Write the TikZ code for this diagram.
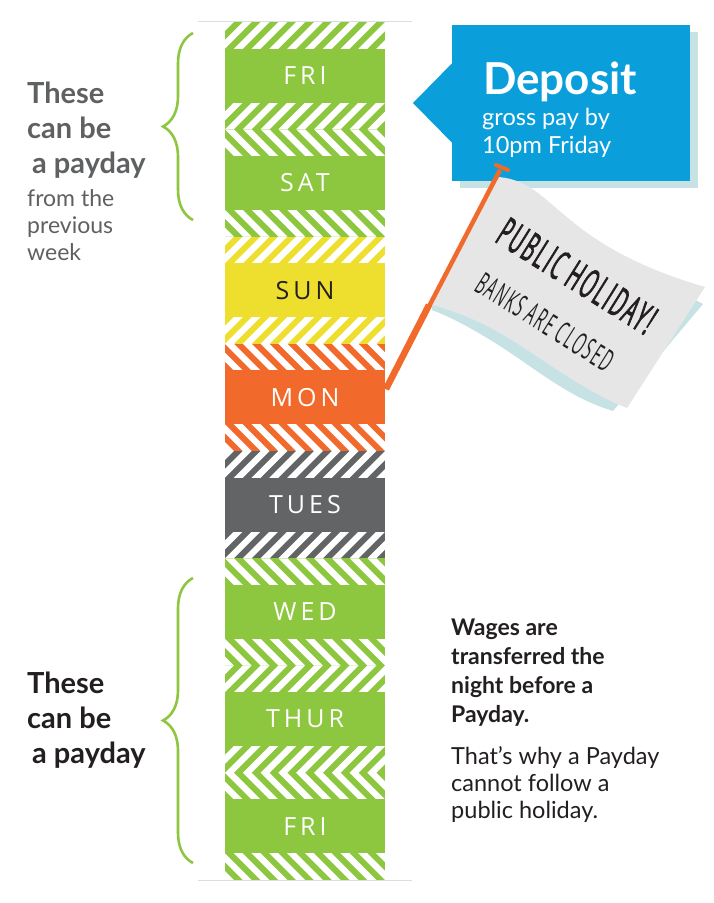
\documentclass[tikz,border=0pt]{standalone}
\usepackage{fontspec}
\setmainfont{Lato}
\newfontfamily\dayfont[LetterSpace=16]{Open Sans}
\newfontfamily\flagfont[FakeStretch=0.46, LetterSpace=6]{Open Sans}
\newfontfamily\flagheadfont[FakeStretch=0.44, FakeBold=1.6, LetterSpace=6]{Open Sans}
\usepackage{xcolor}
\usepackage{tikz}
\usetikzlibrary{positioning,shadows,decorations.pathreplacing}

\definecolor{paygreen}{HTML}{8DC63F}
\definecolor{payyellow}{HTML}{EEDF2E}
\definecolor{payorange}{HTML}{F26A2B}
\definecolor{paygrey}{HTML}{636466}
\definecolor{payblue}{HTML}{0A9FDA}
\definecolor{shadowblue}{HTML}{C7E2E5}
\definecolor{flaggrey}{HTML}{E6E6E7}
\definecolor{inkgrey}{HTML}{5F6062}
\definecolor{ink}{HTML}{231F20}
\definecolor{rulegrey}{HTML}{DDDDDD}

\tikzset{
  daybox/.style={minimum width=160pt, minimum height=53.8pt, inner sep=0pt, font=\dayfont\fontsize{25}{25}\selectfont},
  curly/.style={draw=paygreen, line width=2.6pt, decorate, decoration={brace, amplitude=30pt}},
  note/.style={inner sep=0pt, anchor=base west, align=left},
  pole/.style={draw=payorange, line width=4.5pt},
}

\begin{document}
\begin{tikzpicture}[x=1pt,y=-1pt]
\useasboundingbox (0,0) rectangle (714,903);
\fill[white] (0,0) rectangle (714,903);

% the week column
\foreach \d/\col/\lbl/\tc [count=\i from 0] in {fri/paygreen/FRI/white, sat/paygreen/SAT/white, sun/payyellow/SUN/ink, mon/payorange/MON/white, tues/paygrey/TUES/white, wed/paygreen/WED/white, thur/paygreen/THUR/white, nextfri/paygreen/FRI/white} {
  \pgfmathsetmacro{\jt}{22+107.25*\i}
  \pgfmathsetmacro{\jb}{\jt+107.25}
  \pgfmathsetmacro{\s}{ifthenelse(mod(\i,2)==0,-1,1)}
  \pgfmathsetmacro{\ns}{-1*(\s)}
  \begin{scope}
    \clip (225,\jt) rectangle (385,\jt+26.9);
    \fill[\col] (225,\jt) rectangle (385,\jt+26.9);
    \foreach \k in {-3,...,12}
      \fill[white] (225+17.8*\k,\jt) -- ++(8.9,0) -- ++(26.8*\s,26.8) -- ++(-8.9,0) -- cycle;
  \end{scope}
  \begin{scope}
    \clip (225,\jb-26.9) rectangle (385,\jb);
    \fill[\col] (225,\jb-26.9) rectangle (385,\jb);
    \foreach \k in {-3,...,12}
      \fill[white] (225+17.8*\k,\jb) -- ++(8.9,0) -- ++(26.8*\ns,-26.8) -- ++(-8.9,0) -- cycle;
  \end{scope}
  \node[daybox, fill=\col, text=\tc] (\d) at (305,\jt+53.625) {\lbl};
}
\draw[rulegrey, line width=1pt] (198,21) -- (412,21);
\draw[rulegrey, line width=1pt] (198,880.5) -- (412,880.5);

% braces and side notes (anchored on the last line)
\draw[curly] (193,220) -- (193,33);
\draw[curly] (193,863) -- (193,578);
\node[note, text=inkgrey, font=\bfseries\fontsize{29}{35}\selectfont] (topbold) at (27,173) {These\\can be\\\hspace{5pt}a payday};
\node[note, text=inkgrey, font=\fontsize{23}{27}\selectfont] (topnote) at (27,260) {from the\\previous\\week};
\node[note, text=ink, font=\bfseries\fontsize{29}{35}\selectfont] (lowbold) at (27,763) {These\\can be\\\hspace{5pt}a payday};
\node[note, text=ink, font=\bfseries\fontsize{23}{29}\selectfont] (wages) at (451,722) {Wages are\\transferred the\\night before a\\Payday.};
\node[note, text=ink, font=\fontsize{23.5}{27}\selectfont] (why) at (451,818) {That’s why a Payday\\cannot follow a\\public holiday.};

% deposit callout
\node[fill=payblue, minimum width=238pt, minimum height=156pt, drop shadow={shadow xshift=8pt, shadow yshift=-7pt, fill=shadowblue, opacity=1}] (deposit) at (571,103) {};
\fill[payblue] ([yshift=40pt, xshift=0.5pt]deposit.west) -- (413,103) -- ([yshift=-40pt, xshift=0.5pt]deposit.west) -- cycle;
\node[note, text=white, font=\bfseries\fontsize{44}{44}\selectfont] (deptitle) at (483,94) {Deposit};
\node[note, text=white, font=\fontsize{23.5}{28}\selectfont] (depnote) at (482,153) {gross pay by\\10pm Friday};

% holiday flag
\coordinate (polefoot) at (386,389);
\coordinate (poletop) at (500,170);
\fill[shadowblue] (432,306) -- (505,200) -- (703,304) -- (613,411)
  .. controls (570,398) and (540,372) .. (500,346)
  .. controls (470,327) and (450,317) .. (432,310) -- cycle;
\fill[flaggrey] (499,177) .. controls (530,180) and (545,200) .. (568,218)
  .. controls (600,245) and (640,268) .. (705,287) -- (627,408)
  .. controls (585,392) and (545,360) .. (505,336)
  .. controls (475,318) and (450,310) .. (429,304) -- cycle;
\draw[pole] (polefoot) -- (poletop);
\draw[pole, line width=6.5pt] (polefoot) -- (429,305);
\draw[payorange, line width=4pt, line cap=round] (496,165) -- (508,170);
\node[rotate=-32, text=ink, font=\flagheadfont\fontsize{41}{41}\selectfont] (holiday) at (577,276) {PUBLIC HOLIDAY!};
\node[rotate=-32, text=ink, font=\flagfont\fontsize{31}{31}\selectfont] (closed) at (545,322) {BANKS ARE CLOSED};
\end{tikzpicture}
\end{document}
